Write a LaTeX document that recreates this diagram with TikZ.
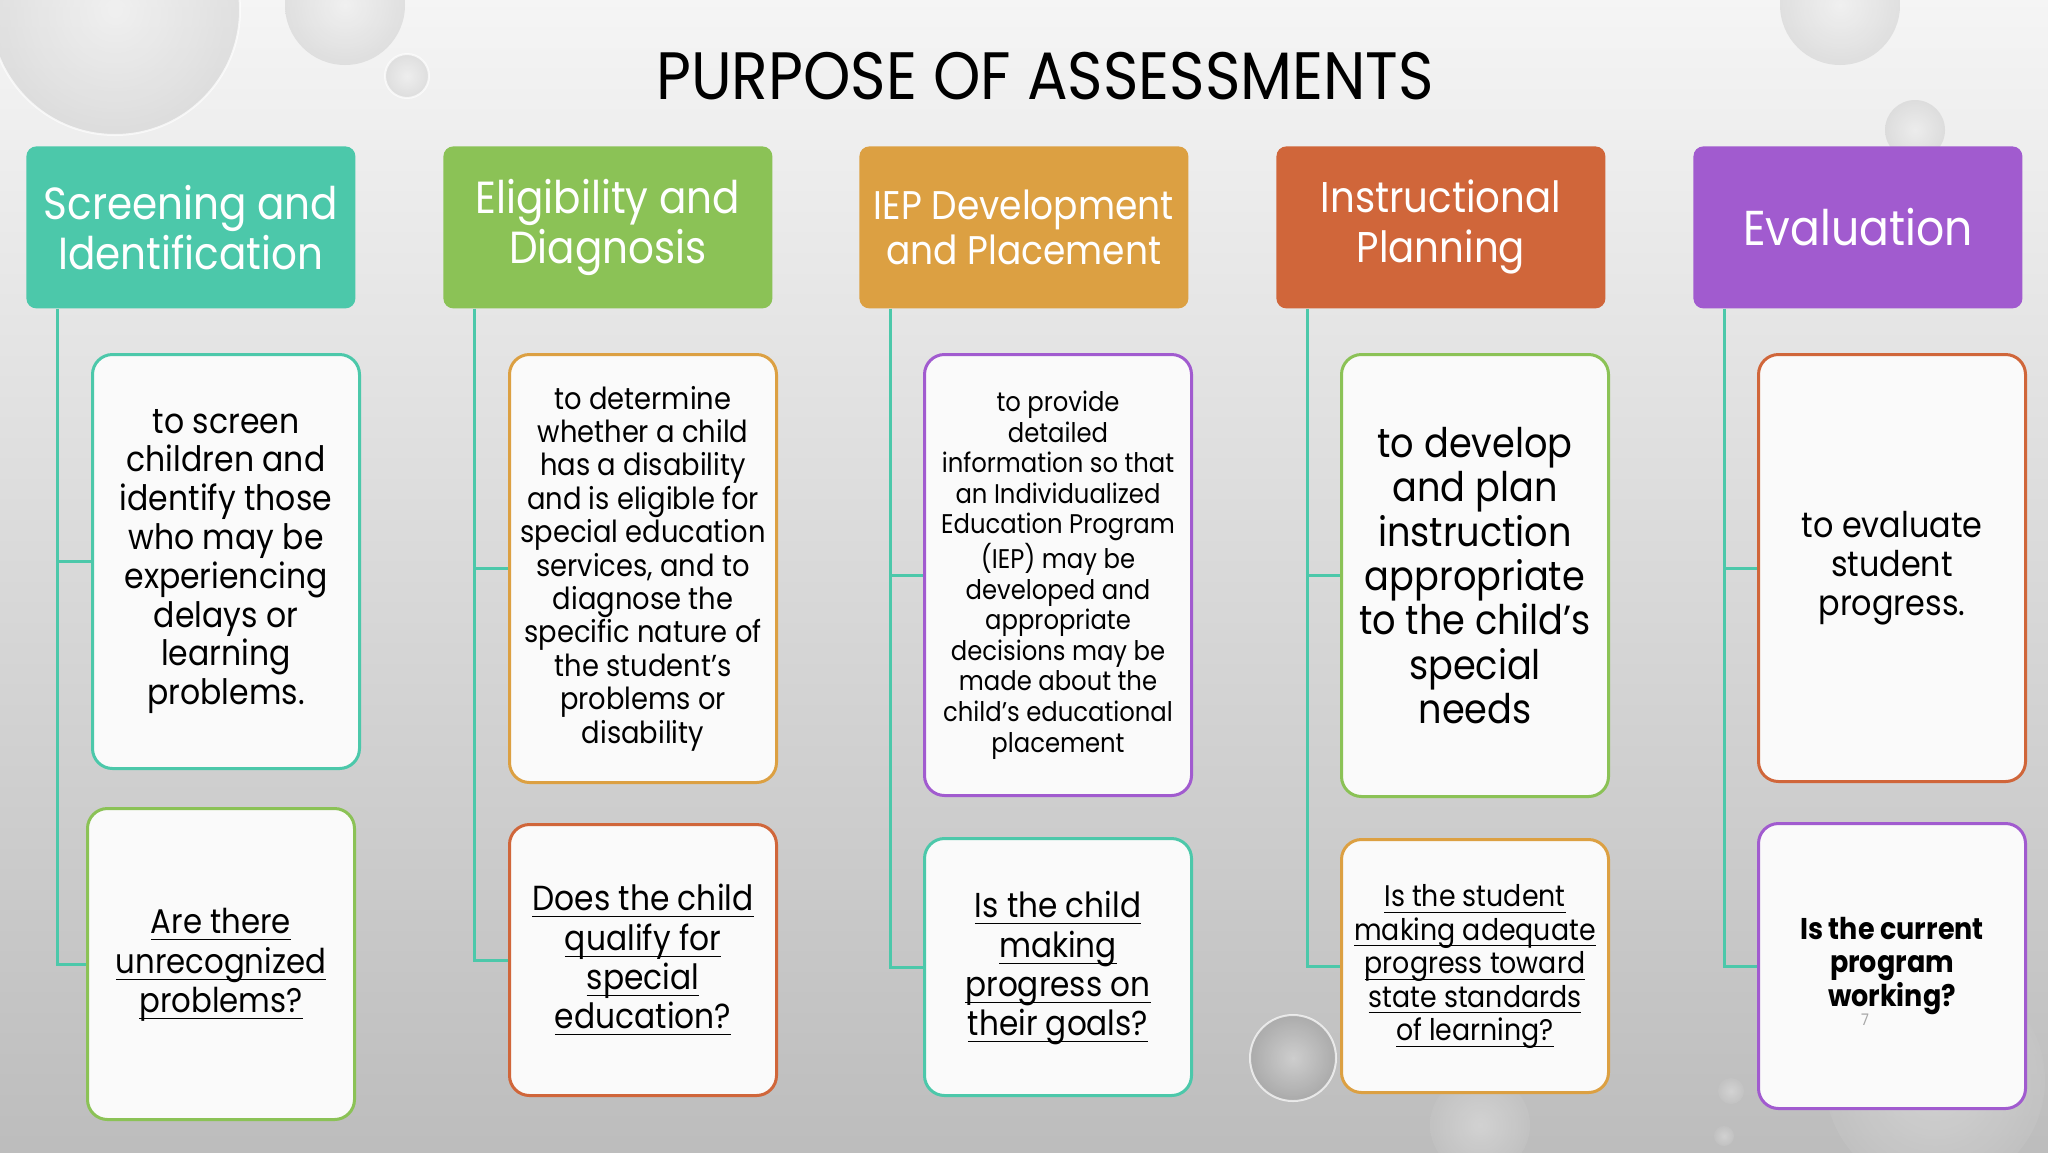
\documentclass[tikz,border=0pt]{standalone}
\usepackage{fontspec}
\setmainfont{Poppins}[FakeStretch=0.9]
\definecolor{cTeal}{HTML}{4CC8AA}
\definecolor{cGreen}{HTML}{8BC256}
\definecolor{cOrange}{HTML}{DCA042}
\definecolor{cRust}{HTML}{D0663A}
\definecolor{cPurple}{HTML}{A15BCF}
\tikzset{
  hdr/.style={fill=#1, rounded corners=5pt, minimum width=164.5pt, minimum height=81pt,
    anchor=north west, text=white, align=center, inner sep=2pt},
  card/.style={draw=#1, line width=1.5pt, fill=white!98!black, rounded corners=10pt,
    minimum width=133.5pt, anchor=north west, align=center, inner sep=2pt, text=black},
  conn/.style={draw=cTeal, line width=1.5pt},
  drop/.style={inner color=white!92!black, outer color=black!22, opacity=0.45},
  dropedge/.style={draw=white, line width=1pt, opacity=0.7},
}
\newcommand{\ul}[1]{\underline{\raisebox{0pt}[\height][0pt]{#1}\vrule width 0pt depth 0.09em}}
\begin{document}
\begin{tikzpicture}[x=0.5pt,y=-0.5pt]
\useasboundingbox (0,0) rectangle (2048,1152);
\shade[top color=white!96!black, bottom color=black!26] (0,0) rectangle (2048,1152);
% droplets
\shade[drop] (115,10) circle (125);
\draw[dropedge] (115,10) circle (125);
\shade[drop] (345,5) circle (60);
\shade[drop] (407,76) circle (22);
\draw[dropedge] (407,76) circle (22);
\shade[drop] (1840,5) circle (60);
\shade[drop] (1915,130) circle (30);
\shade[inner color=white!85!black, outer color=black!40, opacity=0.55] (1293,1058) circle (43);
\draw[dropedge] (1293,1058) circle (43);
\shade[drop] (1731,1091) circle (13);
\shade[drop] (1724,1136) circle (10);
\shade[drop] (1935,1080) circle (110);
\shade[drop] (1480,1125) circle (50);
% title
\node[font=\fontsize{33.5}{38}\selectfont] (title) at (1045,76) {PURPOSE OF ASSESSMENTS};
% headers
\node[hdr=cTeal, font=\fontsize{22.5}{25}\selectfont] (h1) at (26,146) {Screening and\\Identification};
\node[hdr=cGreen, font=\fontsize{22.5}{25}\selectfont] (h2) at (443,146) {Eligibility and\\Diagnosis};
\node[hdr=cOrange, font=\fontsize{20}{22.5}\selectfont] (h3) at (859,146) {IEP Development\\and Placement};
\node[hdr=cRust, font=\fontsize{21.5}{25}\selectfont] (h4) at (1276,146) {Instructional\\Planning};
\node[hdr=cPurple, font=\fontsize{24.5}{25}\selectfont] (h5) at (1693,146) {Evaluation};
% cards top
\node[card=cTeal, minimum height=207pt, font=\fontsize{17.5}{19.4}\selectfont] (a1) at (91,353)
  {to screen\\children and\\identify those\\who may be\\experiencing\\delays or\\learning\\problems.};
\node[card=cOrange, minimum height=214pt, font=\fontsize{15.2}{16.7}\selectfont] (a2) at (508,353)
  {to determine\\whether a child\\has a disability\\and is eligible for\\special education\\services, and to\\diagnose the\\specific nature of\\the student's\\problems or\\disability};
\node[card=cPurple, minimum height=220.5pt, font=\fontsize{13.5}{15.3}\selectfont] (a3) at (923,353)
  {to provide\\detailed\\information so that\\an Individualized\\Education Program\\(IEP) may be\\developed and\\appropriate\\decisions may be\\made about the\\child's educational\\placement};
\node[card=cGreen, minimum height=221pt, font=\fontsize{20.4}{22.2}\selectfont] (a4) at (1340,353)
  {to develop\\and plan\\instruction\\appropriate\\to the child's\\special\\needs};
\node[card=cRust, minimum height=213.5pt, font=\fontsize{17.7}{19.6}\selectfont] (a5) at (1757,353)
  {to evaluate\\student\\progress.};
% cards bottom
\node[card=cGreen, minimum height=155.5pt, font=\fontsize{17.1}{19.6}\selectfont] (b1) at (86,807)
  {\ul{Are there}\\\ul{unrecognized}\\\ul{problems?}};
\node[card=cRust, minimum height=135.5pt, font=\fontsize{17.4}{19.6}\selectfont] (b2) at (508,823)
  {\ul{Does the child}\\\ul{qualify for}\\\ul{special}\\\ul{education?}};
\node[card=cTeal, minimum height=128.5pt, font=\fontsize{17.3}{19.6}\selectfont] (b3) at (923,837)
  {\ul{Is the child}\\\ul{making}\\\ul{progress on}\\\ul{their goals?}};
\node[card=cOrange, minimum height=126.5pt, font=\fontsize{14.9}{16.7}\selectfont] (b4) at (1340,838)
  {\ul{Is the student}\\\ul{making adequate}\\\ul{progress toward}\\\ul{state standards}\\\ul{of learning?}};
\node[card=cPurple, minimum height=142.5pt, font=\bfseries\fontsize{15}{16.7}\selectfont] (b5) at (1757,822)
  {Is the current\\program\\working?};
\node[text=black!35, font=\fontsize{8}{10}\selectfont] (pg) at (1865,1020) {7};
% connectors
\foreach \i in {1,...,5}{
  \draw[conn] ([xshift=15.5pt]h\i.south west) |- (a\i.west);
  \draw[conn] ([xshift=15.5pt]h\i.south west) |- (b\i.west);
}
\end{tikzpicture}
\end{document}
